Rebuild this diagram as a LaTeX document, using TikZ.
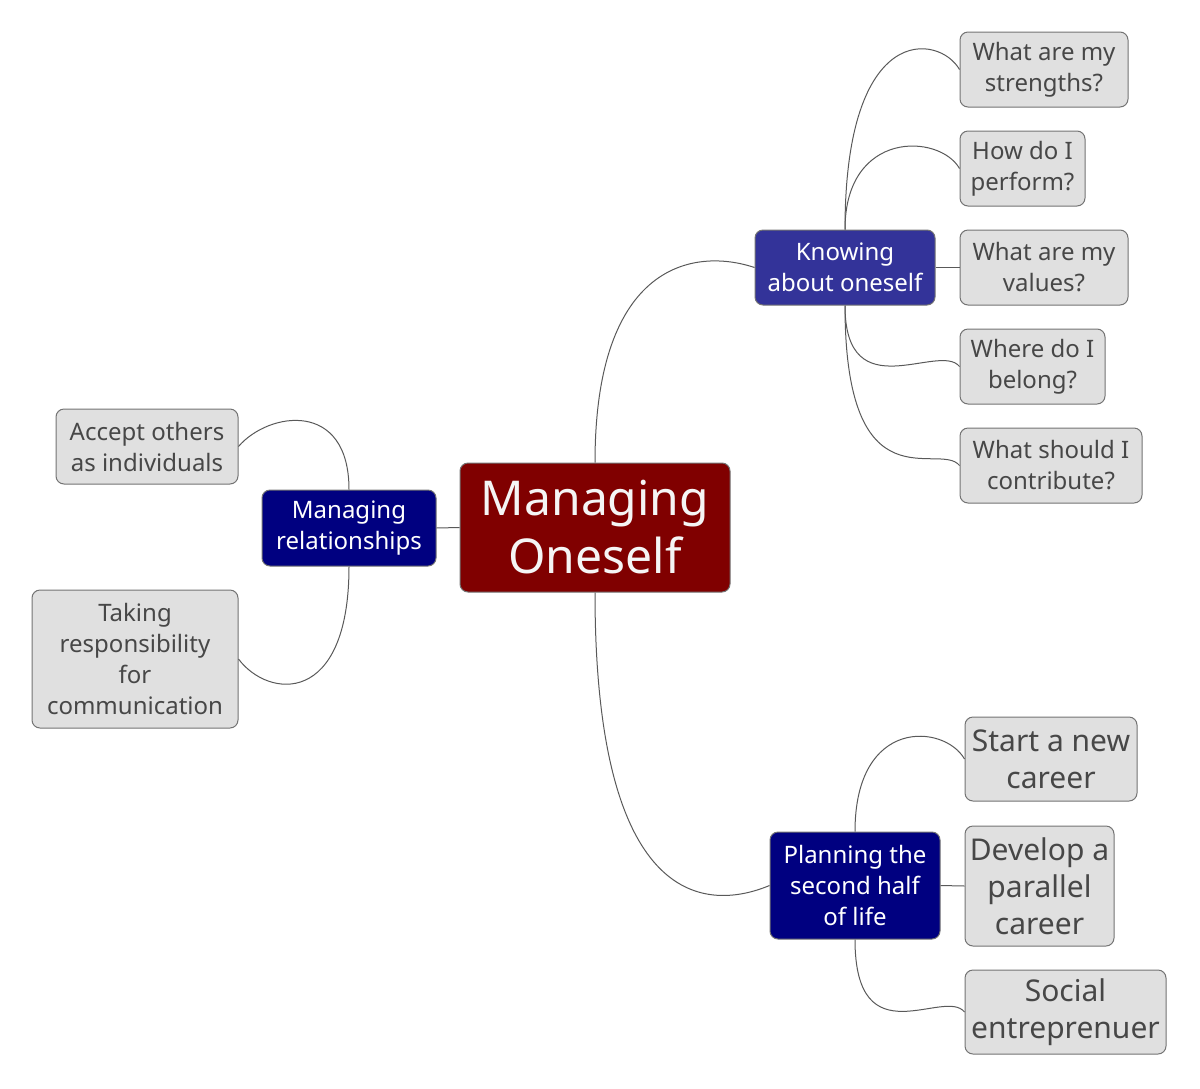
\documentclass[tikz,border=0pt]{standalone}
\usepackage{fontspec}
\setmainfont{Noto Sans}
\begin{document}
\begin{tikzpicture}[x=0.5pt,y=-0.5pt,
 box/.style={draw=black!55,rounded corners=4pt,align=center,font=\bfseries,inner sep=0pt,line width=0.5pt},
 leaf/.style={box,fill=black!12,text=black!72,font=\bfseries\fontsize{12}{15.5}\selectfont},
 big/.style={box,fill=black!12,text=black!72,font=\bfseries\fontsize{15}{18.5}\selectfont},
 mid/.style={box,text=white,font=\bfseries\fontsize{12}{15.5}\selectfont},
 con/.style={draw=black!65,line width=0.5pt}]
\useasboundingbox (0,0) rectangle (1200,1088);
\node[box,fill=red!50!black,text=black!4,minimum width=135pt,minimum height=64.5pt,font=\bfseries\fontsize{24}{29}\selectfont] (c) at (595,527.5) {Managing\\Oneself};
\node[mid,fill={rgb,255:red,51;green,51;blue,153},minimum width=90pt,minimum height=37.5pt] (k) at (845,267.5) {Knowing\\about oneself};
\node[mid,fill={rgb,255:red,0;green,0;blue,128},minimum width=87pt,minimum height=38pt] (m) at (349,528) {Managing\\relationships};
\node[mid,fill={rgb,255:red,0;green,0;blue,128},minimum width=85pt,minimum height=53.5pt] (p) at (855,885.5) {Planning the\\second half\\of life};
\node[leaf,minimum width=84pt,minimum height=37.5pt] (q1) at (1044,69.5) {What are my\\strengths?};
\node[leaf,minimum width=62.5pt,minimum height=37.5pt] (q2) at (1022.5,168.5) {How do I\\perform?};
\node[leaf,minimum width=84pt,minimum height=37.5pt] (q3) at (1044,267.5) {What are my\\values?};
\node[leaf,minimum width=72.5pt,minimum height=37.5pt] (q4) at (1032.5,366.5) {Where do I\\belong?};
\node[leaf,minimum width=91pt,minimum height=37.5pt] (q5) at (1051,465.5) {What should I\\contribute?};
\node[leaf,minimum width=91pt,minimum height=37.5pt] (a) at (147,446.5) {Accept others\\as individuals};
\node[leaf,minimum width=103pt,minimum height=69pt] (t) at (135,659) {Taking\\responsibility\\for\\communication};
\node[big,minimum width=86pt,minimum height=42pt] (s1) at (1051,759) {Start a new\\career};
\node[big,minimum width=74.5pt,minimum height=60pt] (s2) at (1039.5,886) {Develop a\\parallel\\career};
\node[big,minimum width=100.5pt,minimum height=42pt] (s3) at (1065.5,1012) {Social\\entreprenuer};
\draw[con] (c.north) .. controls ++(0,-200) and ++(-60,-20) .. (k.west);
\draw[con] (c.south) .. controls ++(0,320) and ++(-60,25) .. (p.west);
\draw[con] (c.west) -- (m.east);
\draw[con] (k.north) .. controls ++(0,-210) and ++(-20,-35) .. (q1.west);
\draw[con] (k.north) .. controls ++(0,-100) and ++(-20,-35) .. (q2.west);
\draw[con] (k.east) -- (q3.west);
\draw[con] (k.south) .. controls ++(0,105) and ++(-20,-25) .. (q4.west);
\draw[con] (k.south) .. controls ++(0,205) and ++(-20,-25) .. (q5.west);
\draw[con] (m.north) .. controls ++(0,-90) and ++(30,-35) .. (a.east);
\draw[con] (m.south) .. controls ++(0,140) and ++(30,40) .. (t.east);
\draw[con] (p.north) .. controls ++(0,-115) and ++(-20,-35) .. (s1.west);
\draw[con] (p.east) -- (s2.west);
\draw[con] (p.south) .. controls ++(0,120) and ++(-20,-25) .. (s3.west);
\end{tikzpicture}
\end{document}
